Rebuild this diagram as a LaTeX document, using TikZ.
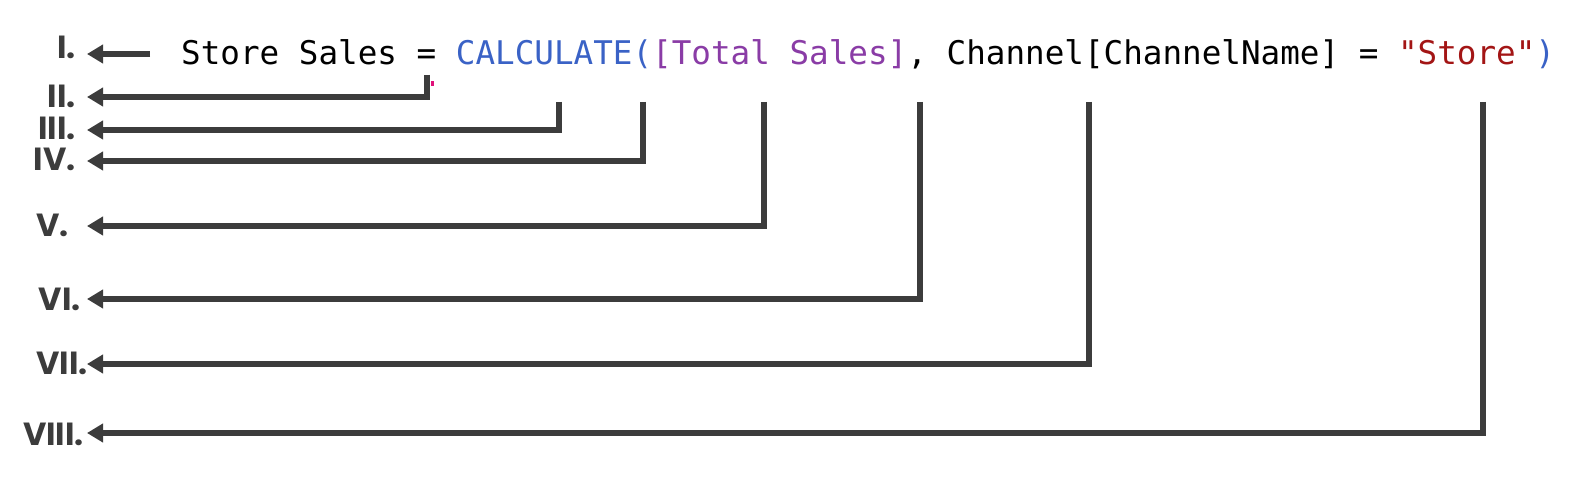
\documentclass[tikz,border=0pt]{standalone}
\usepackage{fontspec}
\setmainfont{Poppins}
\newfontfamily\codefont{DejaVu Sans Mono}
\usetikzlibrary{arrows.meta}
\definecolor{ink}{HTML}{3C3C3C}
\definecolor{fnblue}{HTML}{3A62C6}
\definecolor{colpurple}{HTML}{8A3CA6}
\definecolor{strred}{HTML}{A31515}
\definecolor{cursorpink}{HTML}{E0107A}
\begin{document}
\begin{tikzpicture}[x=1pt,y=-1pt,
  conn/.style={draw=ink, line width=6pt, -{Triangle[length=16pt,width=18pt]}},
  lbl/.style={font=\bfseries\fontsize{32}{32}\selectfont, text=ink, inner sep=0pt, anchor=base east},
  codetext/.style={font=\codefont\fontsize{32.6}{32.6}\selectfont, inner sep=0pt, anchor=base west}]
\useasboundingbox (0,0) rectangle (1590,478);
\fill[white] (0,0) rectangle (1590,478);
% code line
\node[codetext] (code) at (181,65) {Store Sales = {\color{fnblue}CALCULATE(}{\color{colpurple}[Total Sales]}, Channel[ChannelName] = {\color{strred}"Store"}{\color{fnblue})}};
% labels
\node[lbl] (l1) at (76,59) {I.};
\node[lbl] (l2) at (76,108) {II.};
\node[lbl] (l3) at (76,140) {III.};
\node[lbl] (l4) at (76,171) {IV.};
\node[lbl] (l5) at (69,237) {V.};
\node[lbl] (l6) at (81,310) {VI.};
\node[lbl] (l7) at (88,374) {VII.};
\node[lbl] (l8) at (84,445) {VIII.};
% start points under the code
\coordinate (s1) at (150,54);
\coordinate (s2) at (427,75);
\coordinate (s3) at (559,102);
\coordinate (s4) at (643,102);
\coordinate (s5) at (764,102);
\coordinate (s6) at (920,102);
\coordinate (s7) at (1089,102);
\coordinate (s8) at (1483,102);
% arrow tips
\coordinate (t1) at (87,54);
\coordinate (t2) at (87,97);
\coordinate (t3) at (87,130);
\coordinate (t4) at (87,161);
\coordinate (t5) at (87,226);
\coordinate (t6) at (87,299);
\coordinate (t7) at (87,364);
\coordinate (t8) at (87,433);
% connectors
\draw[conn] (s1) -- (t1);
\draw[conn] (s2) |- (t2);
\draw[conn] (s3) |- (t3);
\draw[conn] (s4) |- (t4);
\draw[conn] (s5) |- (t5);
\draw[conn] (s6) |- (t6);
\draw[conn] (s7) |- (t7);
\draw[conn] (s8) |- (t8);
% small cursor mark
\fill[cursorpink] (431,81) rectangle (434,86);
\end{tikzpicture}
\end{document}
